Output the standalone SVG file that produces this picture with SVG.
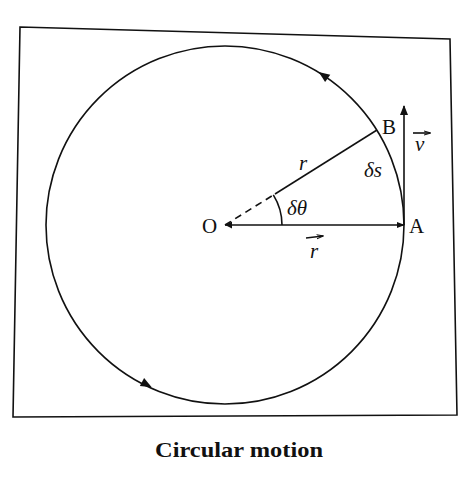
<svg xmlns="http://www.w3.org/2000/svg" width="474" height="493" viewBox="0 0 474 493">
<defs>
<marker id="ah" viewBox="0 0 10 10" refX="9" refY="5" markerWidth="8" markerHeight="8" markerUnits="userSpaceOnUse" orient="auto"><path d="M0,1 L10,5 L0,9 Z" fill="#111"/></marker>
<marker id="ahv" viewBox="0 0 10 10" refX="9" refY="5" markerWidth="10" markerHeight="10" markerUnits="userSpaceOnUse" orient="auto"><path d="M0,1 L10,5 L0,9 Z" fill="#111"/></marker>
<marker id="sm" viewBox="0 0 10 10" refX="9" refY="5" markerWidth="7" markerHeight="7" markerUnits="userSpaceOnUse" orient="auto"><path d="M0,2 L10,5 L0,8" fill="none" stroke="#111" stroke-width="1.5"/></marker>
</defs>
<style>
.ln{stroke:#111;fill:none;stroke-width:1.6}
.lbl{font-family:"Liberation Serif","Times New Roman",serif;fill:#111;font-size:21px}
.it{font-style:italic}
</style>
<rect width="474" height="493" fill="#fff"/>
<g id="frame"><path class="ln" d="M20,27 L450,39 L457,415 L13,417 Z" stroke-width="1.8"/></g>
<g id="circle">
<circle class="ln" cx="225" cy="225" r="179"/>
<path d="M0,-4.5 L11,0 L0,4.5 Z" fill="#111" transform="translate(327.7,78.4) rotate(215)"/>
<path d="M0,-4.5 L11,0 L0,4.5 Z" fill="#111" transform="translate(142,382) rotate(28)"/>
</g>
<g id="connectors">
<line class="ln" x1="225" y1="225" x2="404" y2="225" marker-end="url(#ah)"/>
<path d="M225,225 l7,-3.5 l0,7 Z" fill="#111"/>
<line class="ln" x1="225" y1="225" x2="275" y2="194" stroke-dasharray="7,5" stroke-width="1.2"/>
<line class="ln" x1="275" y1="194" x2="377" y2="130" stroke-width="1.4"/>
<path class="ln" d="M282,225 A57,57 0 0 0 273.3,194.8" stroke-width="1.3"/>
<line class="ln" x1="404" y1="225" x2="404" y2="106" stroke-width="3" marker-end="url(#ahv)"/>
</g>
<g id="labels">
<text class="lbl" x="202" y="233">O</text>
<text class="lbl" x="409" y="233">A</text>
<text class="lbl" x="382" y="134">B</text>
<text class="lbl it" x="299" y="170">r</text>
<text class="lbl it" x="364" y="177">δs</text>
<text class="lbl it" x="287" y="215">δθ</text>
<text class="lbl it" x="310" y="258">r</text>
<line x1="306" y1="238" x2="323" y2="236" class="ln" stroke-width="1.2" marker-end="url(#sm)"/>
<text class="lbl it" x="415" y="151">v</text>
<line x1="413" y1="133" x2="430" y2="133" class="ln" stroke-width="1.2" marker-end="url(#sm)"/>
<text class="lbl" x="239" y="457" text-anchor="middle" font-weight="bold" font-size="21" textLength="168" lengthAdjust="spacingAndGlyphs">Circular motion</text>
</g>
</svg>
